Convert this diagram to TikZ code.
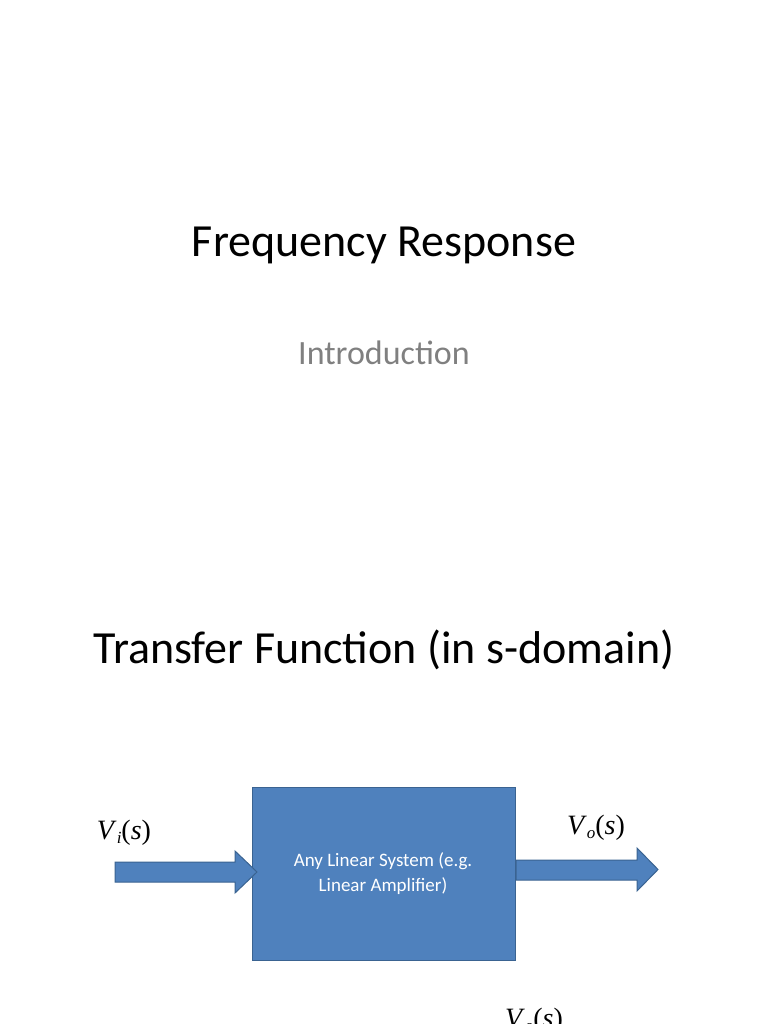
\documentclass[tikz,border=0pt]{standalone}
\usepackage{fontspec}
\setmainfont{Carlito}
\newfontfamily\tms{Liberation Serif}
\definecolor{boxblue}{HTML}{4F81BD}
\definecolor{boxedge}{HTML}{3A6391}
\begin{document}
\begin{tikzpicture}[x=1pt,y=-1pt,
  blk/.style={fill=boxblue,draw=boxedge,line width=1pt},
  lbl/.style={font=\tms\fontsize{28}{30}\selectfont}]
\useasboundingbox (0,0) rectangle (768,1024);
\clip (0,0) rectangle (768,1024);
\node (t1) at (384,245) {\fontsize{46}{50}\selectfont Frequency Response};
\node[text=gray] (t2) at (384,353) {\fontsize{34}{38}\selectfont Introduction};
\node (t3) at (384,650) {\fontsize{46}{52}\selectfont Transfer Function (in s-domain)};
\draw[blk] (252,787) rectangle (515,960);
\node[text=white,align=center,font=\fontsize{19}{25}\selectfont] (sys) at (383,874) {Any Linear System (e.g.\\Linear Amplifier)};
\draw[blk] (115,862) -- (235,862) -- (235,851) -- (257,872) -- (235,893) -- (235,882) -- (115,882) -- cycle;
\draw[blk] (516,860) -- (637,860) -- (637,848) -- (658,869.5) -- (637,891) -- (637,880) -- (516,880) -- cycle;
\node[lbl] (vi) at (124,833) {\textit{V}\raisebox{-4pt}{\fontsize{17}{17}\selectfont\textit{i}}(\textit{s})};
\node[lbl] (vo) at (596,828) {\textit{V}\raisebox{-4pt}{\fontsize{17}{17}\selectfont\textit{o}}(\textit{s})};
\node[anchor=base west,inner sep=0] (tf) at (190,1056) {\fontsize{44}{48}\selectfont Transfer Function\quad\ \ =};
\node[lbl,anchor=base,inner sep=0] (num) at (534,1027) {\textit{V}\raisebox{-4pt}{\fontsize{17}{17}\selectfont\textit{o}}(\textit{s})};
\end{tikzpicture}
\end{document}
